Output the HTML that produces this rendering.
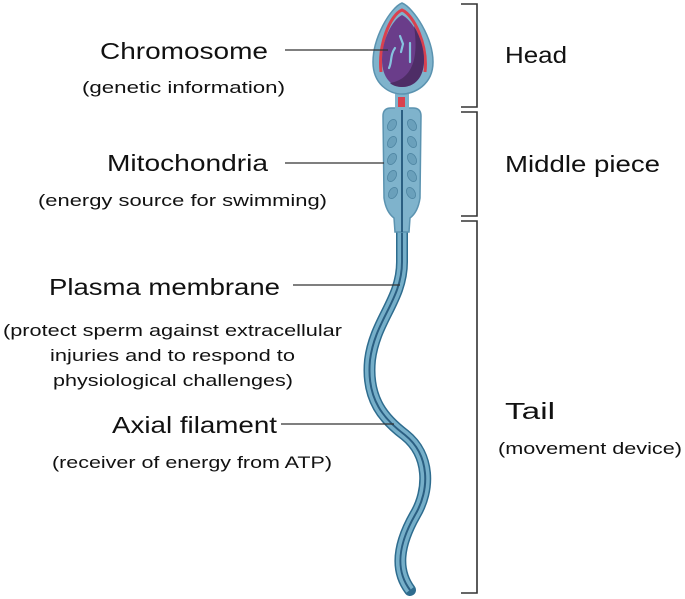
<!DOCTYPE html>
<html><head><style>
html,body{margin:0;padding:0;background:#fff;}
svg{display:block;}
text{font-family:"Liberation Sans",sans-serif;fill:#111;}
</style></head><body>
<svg width="685" height="599" viewBox="0 0 685 599" xmlns="http://www.w3.org/2000/svg">
<g stroke="#333" stroke-width="1.6" fill="none">
<path d="M461 4 H477 V107 H461"/>
<path d="M461 112 H477 V216 H461"/>
<path d="M461 221 H477 V593 H461"/>
</g>
<path d="M402 200 L402 262 C402 300 375 320 370 360 C366 400 385 420 405 435 C430 455 430 490 415 515 C398 545 395 570 410 590" stroke="#2e6c8e" stroke-width="12" fill="none" stroke-linecap="round"/>
<path d="M402 200 L402 262 C402 300 375 320 370 360 C366 400 385 420 405 435 C430 455 430 490 415 515 C398 545 395 570 410 590" stroke="#76afc9" stroke-width="9" fill="none"/>
<path d="M402 200 L402 262 C402 300 375 320 370 360 C366 400 385 420 405 435 C430 455 430 490 415 515 C398 545 395 570 410 590" stroke="#2b5f82" stroke-width="2" fill="none"/>
<path d="M383 116 Q383 108 391 108 L413 108 Q421 108 421 116 L420 198 Q418 212 410 218 L409 232 L395 232 L394 218 Q386 212 384 198 Z" fill="#7fb3cc" stroke="#5b93b0" stroke-width="1.5"/>
<g fill="#6aa0bb" stroke="#4f86a3" stroke-width="0.8">
<ellipse cx="392" cy="125" rx="4" ry="6" transform="rotate(30 392 125)"/>
<ellipse cx="392" cy="142" rx="4" ry="6" transform="rotate(30 392 142)"/>
<ellipse cx="392" cy="159" rx="4" ry="6" transform="rotate(30 392 159)"/>
<ellipse cx="392" cy="176" rx="4" ry="6" transform="rotate(30 392 176)"/>
<ellipse cx="393" cy="193" rx="4" ry="6" transform="rotate(30 393 193)"/>
<ellipse cx="412" cy="125" rx="4" ry="6" transform="rotate(-30 412 125)"/>
<ellipse cx="412" cy="142" rx="4" ry="6" transform="rotate(-30 412 142)"/>
<ellipse cx="412" cy="159" rx="4" ry="6" transform="rotate(-30 412 159)"/>
<ellipse cx="412" cy="176" rx="4" ry="6" transform="rotate(-30 412 176)"/>
<ellipse cx="411" cy="193" rx="4" ry="6" transform="rotate(-30 411 193)"/>
</g>
<line x1="402" y1="108" x2="402" y2="232" stroke="#2b5f82" stroke-width="2"/>
<rect x="395" y="94" width="14" height="16" fill="#7fb3cc"/>
<path d="M402 3 C390 8 373 38 373 62 C373 85 390 94 402 94 C414 94 433 85 433 62 C433 38 414 8 402 3 Z" fill="#7fb3cc" stroke="#5b93b0" stroke-width="1.5"/>
<path d="M381 72 C378 45 390 15 402 10 C414 15 428 45 425 72" fill="none" stroke="#d9414f" stroke-width="3"/>
<path d="M402 15 C392 20 382 40 382 60 C382 78 392 87 402 87 C414 87 424 78 424 60 C424 40 412 20 402 15 Z" fill="#6a3d8a"/>
<path d="M414 26 C421 38 424 50 424 60 C424 78 414 87 402 87 C396 87 392 85 390 83 C408 80 420 65 414 26 Z" fill="#4e2d66"/>
<g stroke="#86c3de" stroke-width="2.2" fill="none" stroke-linecap="round">
<path d="M400 36 L403 44 L401 52"/>
<path d="M395 48 C390 55 392 62 389 68"/>
<path d="M410 43 L410 62"/>
</g>
<rect x="398" y="97" width="7" height="10" fill="#d9414f"/>
<g stroke="#333" stroke-width="1.3">
<line x1="285" y1="50" x2="388" y2="50"/>
<line x1="285" y1="163" x2="384" y2="163"/>
<line x1="293" y1="285" x2="400" y2="285"/>
<line x1="281" y1="424" x2="394" y2="424"/>
</g>
<text x="100" y="59" font-size="23" textLength="168" lengthAdjust="spacingAndGlyphs">Chromosome</text>
<text x="82" y="93" font-size="17" textLength="203" lengthAdjust="spacingAndGlyphs">(genetic information)</text>
<text x="107" y="171" font-size="23" textLength="161" lengthAdjust="spacingAndGlyphs">Mitochondria</text>
<text x="38" y="206" font-size="17" textLength="289" lengthAdjust="spacingAndGlyphs">(energy source for swimming)</text>
<text x="49" y="295" font-size="23" textLength="231" lengthAdjust="spacingAndGlyphs">Plasma membrane</text>
<text x="3" y="336" font-size="17" textLength="339" lengthAdjust="spacingAndGlyphs">(protect sperm against extracellular</text>
<text x="50" y="361" font-size="17" textLength="245" lengthAdjust="spacingAndGlyphs">injuries and to respond to</text>
<text x="53" y="386" font-size="17" textLength="240" lengthAdjust="spacingAndGlyphs">physiological challenges)</text>
<text x="112" y="433" font-size="23" textLength="165" lengthAdjust="spacingAndGlyphs">Axial filament</text>
<text x="52" y="468" font-size="17" textLength="280" lengthAdjust="spacingAndGlyphs">(receiver of energy from ATP)</text>
<text x="505" y="63" font-size="23" textLength="62" lengthAdjust="spacingAndGlyphs">Head</text>
<text x="505" y="172" font-size="23" textLength="155" lengthAdjust="spacingAndGlyphs">Middle piece</text>
<text x="505" y="419" font-size="23" textLength="50" lengthAdjust="spacingAndGlyphs">Tail</text>
<text x="498" y="454" font-size="17" textLength="184" lengthAdjust="spacingAndGlyphs">(movement device)</text>
</svg>
</body></html>
